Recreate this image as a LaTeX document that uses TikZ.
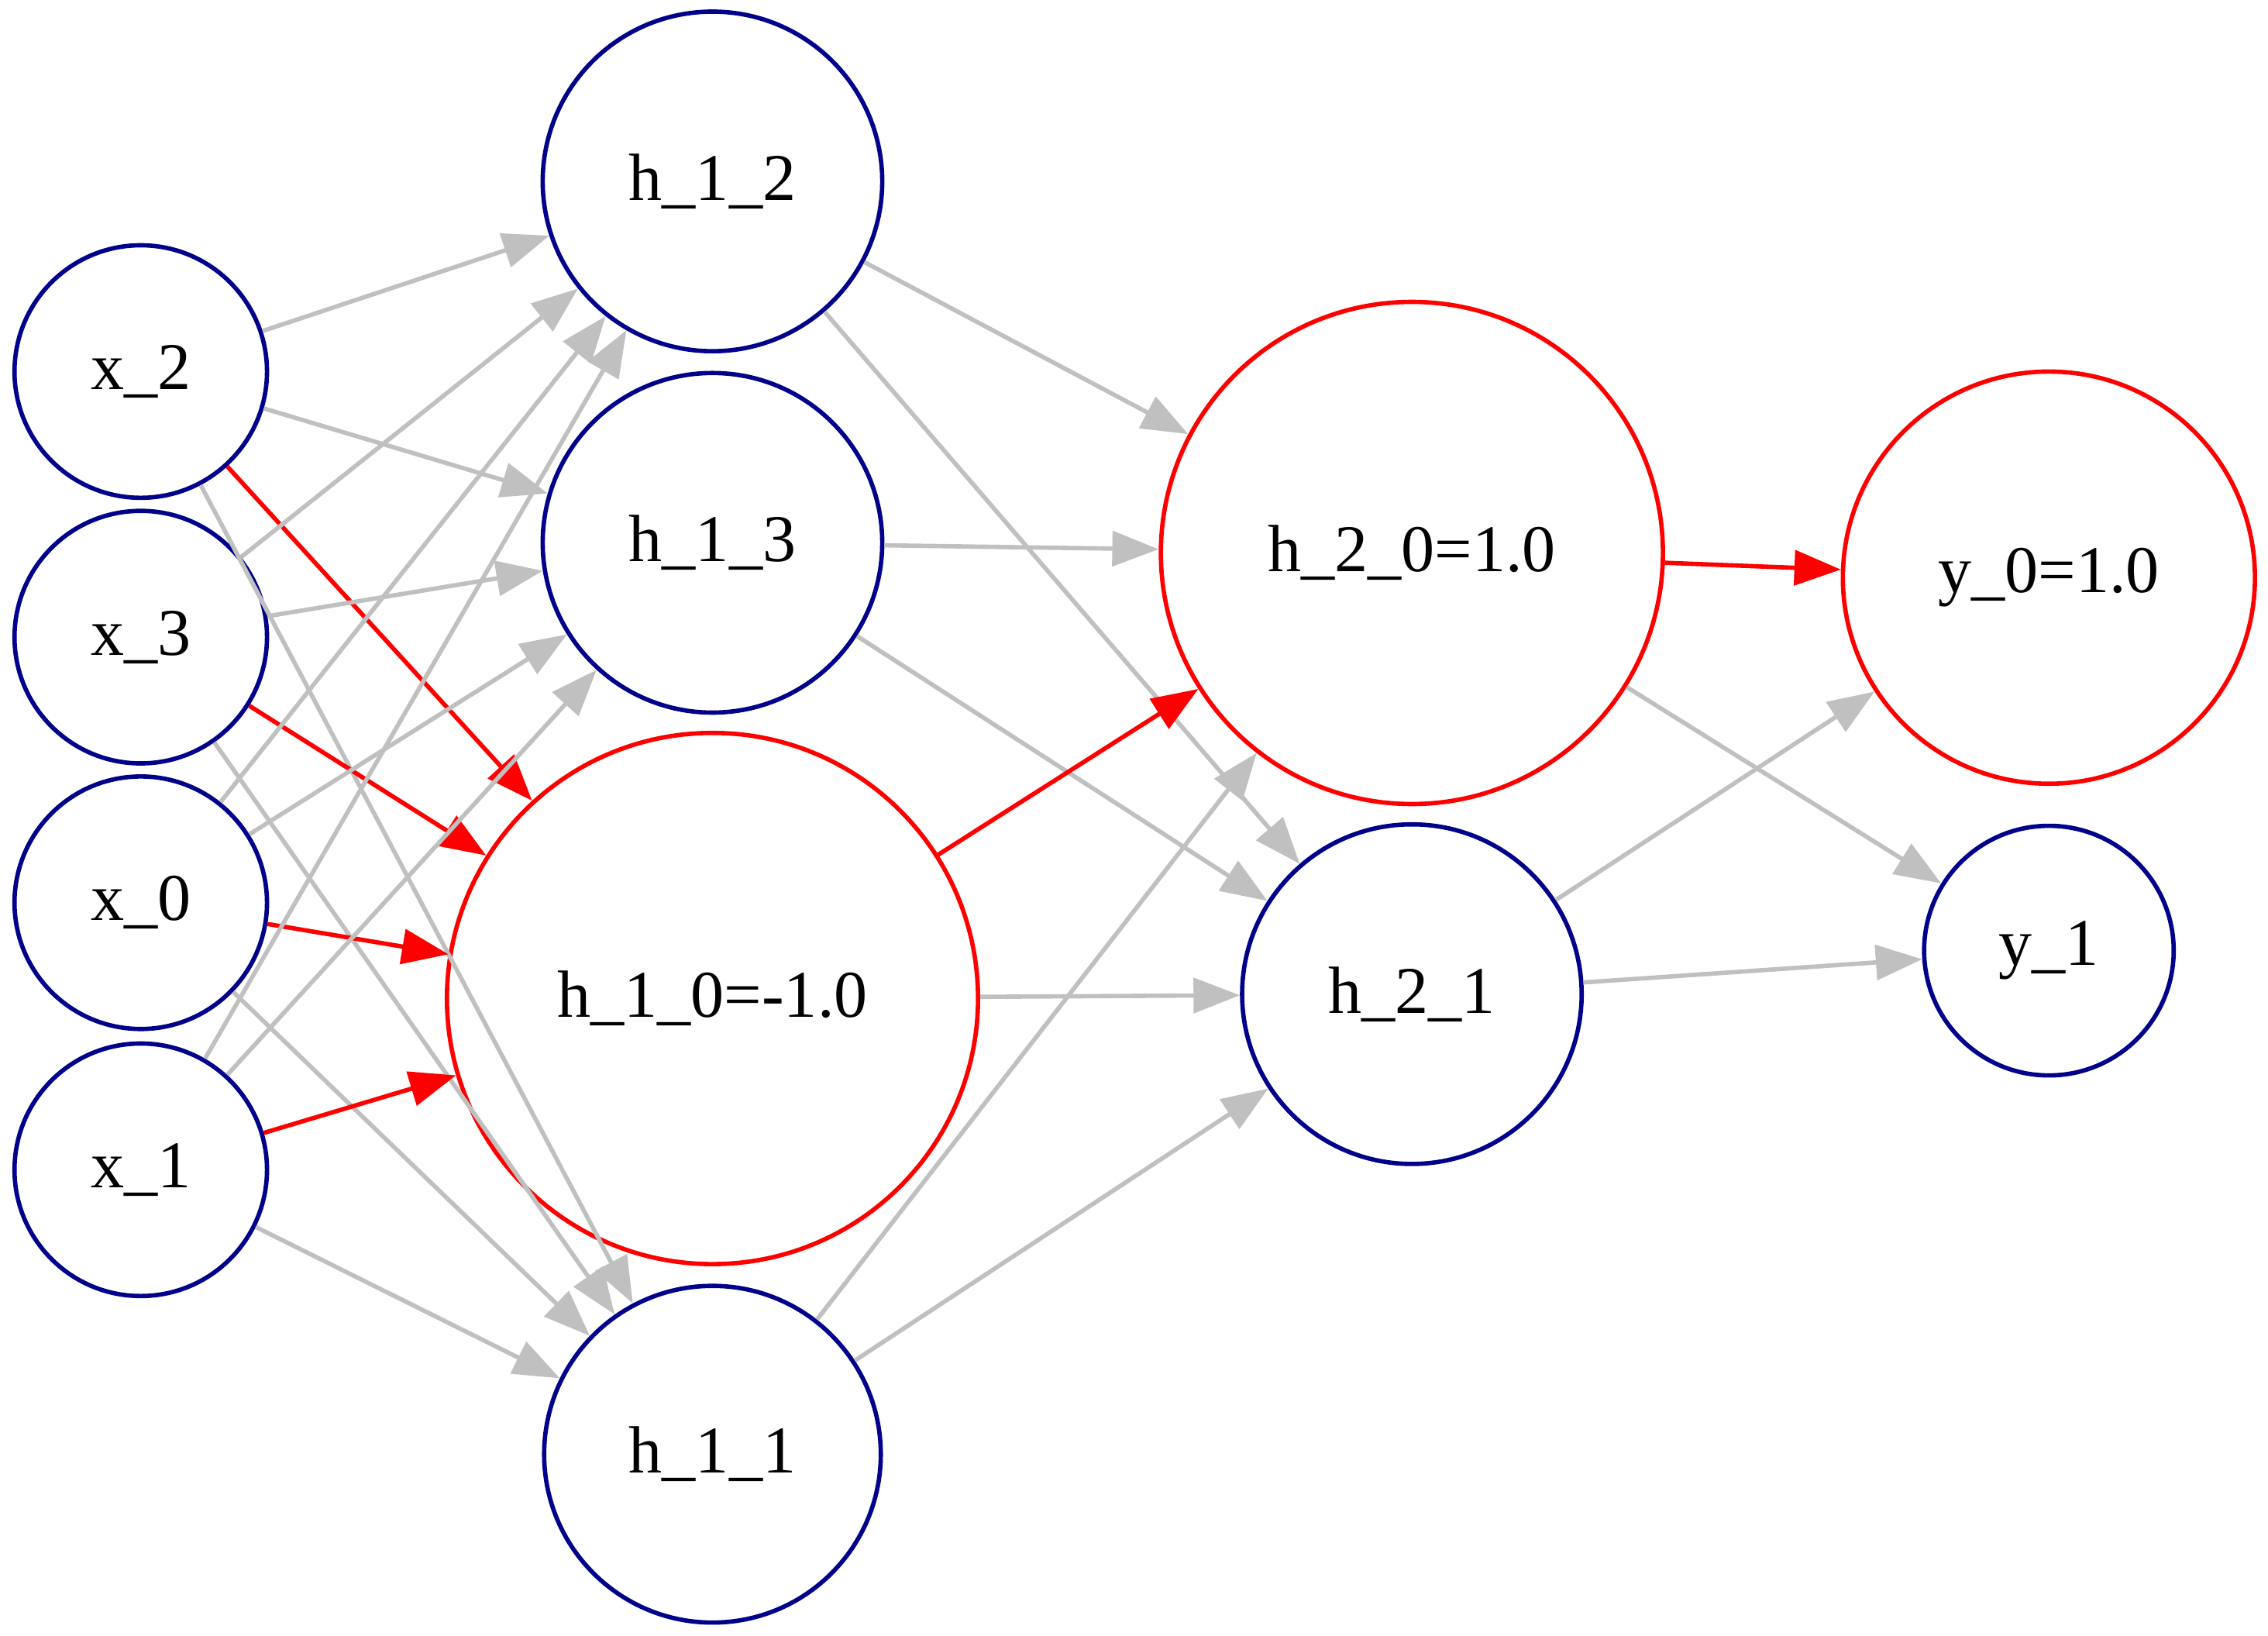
\documentclass[tikz,border=0pt]{standalone}
\usepackage{fontspec}
\setmainfont{Liberation Serif}
\usetikzlibrary{arrows.meta}
\definecolor{nblue}{RGB}{0,0,139}
\definecolor{egray}{RGB}{192,192,192}
\tikzset{
  neuron/.style={circle,draw=nblue,line width=3pt,minimum size=#1,inner sep=0pt,font=\fontsize{46}{52}\selectfont},
  active/.style={draw=red},
  edge/.style={draw=egray,line width=3pt,-{Triangle[length=32pt,width=24pt]}},
  redge/.style={edge,draw=red,fill=red},
}
\begin{document}
\begin{tikzpicture}[x=1pt,y=-1pt]
\useasboundingbox (0,0) rectangle (1563,1127);
\node[neuron=174pt] (x2) at (97,256) {x\_2};
\node[neuron=174pt] (x3) at (97,439) {x\_3};
\node[neuron=174pt] (x0) at (97,622) {x\_0};
\node[neuron=174pt] (x1) at (97,806) {x\_1};
\node[neuron=234pt] (h12) at (491,125) {h\_1\_2};
\node[neuron=234pt] (h13) at (491,374) {h\_1\_3};
\node[neuron=366pt,active] (h10) at (491,688) {h\_1\_0=-1.0};
\node[neuron=232pt] (h11) at (491,1002) {h\_1\_1};
\node[neuron=346pt,active] (h20) at (973,381) {h\_2\_0=1.0};
\node[neuron=234pt] (h21) at (973,685) {h\_2\_1};
\node[neuron=284pt,active] (y0) at (1412,398) {y\_0=1.0};
\node[neuron=172pt] (y1) at (1412,655) {y\_1};
\foreach \a in {x2,x3,x0,x1}{
  \foreach \b in {h12,h13,h11}{ \draw[edge] (\a) -- (\b); }
  \draw[redge] (\a) -- (h10);
}
\foreach \a in {h12,h13,h11}{ \draw[edge] (\a) -- (h20); \draw[edge] (\a) -- (h21); }
\draw[redge] (h10) -- (h20);
\draw[edge] (h10) -- (h21);
\draw[redge] (h20) -- (y0);
\draw[edge] (h20) -- (y1);
\draw[edge] (h21) -- (y0);
\draw[edge] (h21) -- (y1);
\end{tikzpicture}
\end{document}
